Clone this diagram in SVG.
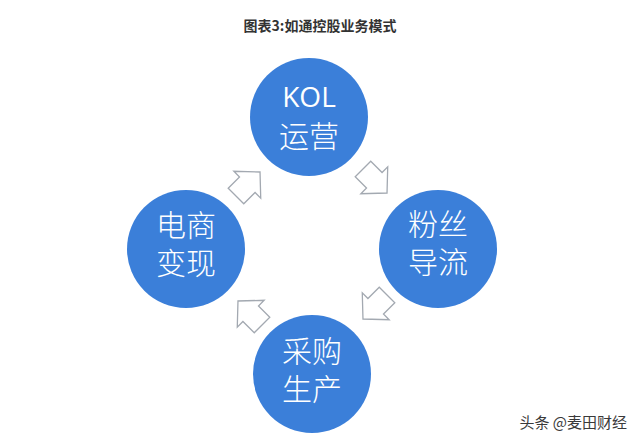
<svg xmlns="http://www.w3.org/2000/svg" width="640" height="443" viewBox="0 0 640 443">
<defs>
<style>
.node circle{fill:#3b7fd9}
.lbl{font-family:"Noto Sans CJK SC","Noto Sans",sans-serif;font-size:30px;fill:#ffffff;text-anchor:middle;font-weight:300}
.lat{font-family:"Open Sans","Noto Sans",sans-serif;font-size:28px;fill:#ffffff;text-anchor:middle}
.arr{fill:#ffffff;stroke:#a3a9b1;stroke-width:1.3;stroke-linejoin:miter}
</style>
<path id="blk" d="M-17,-11 L-1,-11 L-1,-19 L17,0 L-1,19 L-1,11 L-17,11 Z"/>
</defs>
<rect width="640" height="443" fill="#ffffff"/>
<text x="320" y="31" font-family="Noto Sans CJK SC, sans-serif" font-size="14" font-weight="bold" fill="#333333" text-anchor="middle">图表3:如通控股业务模式</text>
<g id="connectors">
<use href="#blk" class="arr" transform="translate(375,181) rotate(45)"/>
<use href="#blk" class="arr" transform="translate(375,307) rotate(135)"/>
<use href="#blk" class="arr" transform="translate(250,313) rotate(-135)"/>
<use href="#blk" class="arr" transform="translate(248,184) rotate(-45)"/>
</g>
<g id="node-kol" class="node">
<circle cx="309" cy="117" r="59"/>
<text class="lat" x="309" y="107">KOL</text>
<text class="lbl" x="309" y="147">运营</text>
</g>
<g id="node-fans" class="node">
<circle cx="438" cy="249" r="59"/>
<text class="lbl" x="438" y="235">粉丝</text>
<text class="lbl" x="438" y="273">导流</text>
</g>
<g id="node-purchase" class="node">
<circle cx="312" cy="374" r="59"/>
<text class="lbl" x="312" y="362">采购</text>
<text class="lbl" x="312" y="400">生产</text>
</g>
<g id="node-ecom" class="node">
<circle cx="186" cy="249" r="59"/>
<text class="lbl" x="186" y="236">电商</text>
<text class="lbl" x="186" y="274">变现</text>
</g>
<text x="627" y="428" font-family="Noto Sans CJK SC, sans-serif" font-size="15" fill="#3a3a3a" text-anchor="end">头条 @麦田财经</text>
</svg>
